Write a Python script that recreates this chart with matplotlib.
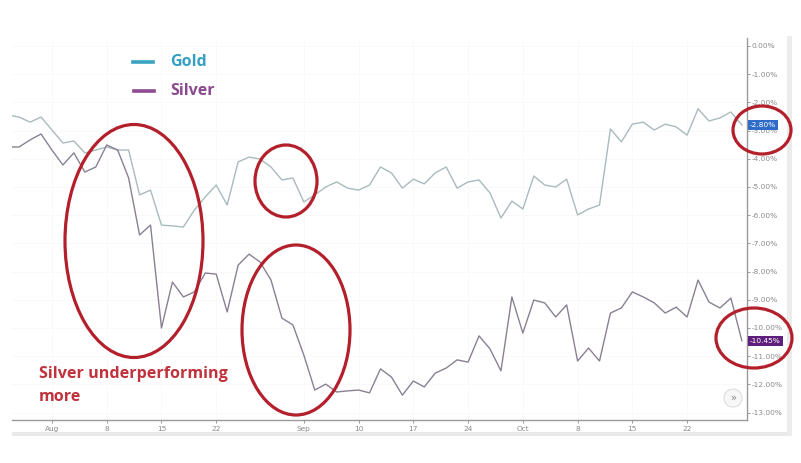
import numpy as np
import pandas as pd
import matplotlib
matplotlib.use("Agg")
import matplotlib.pyplot as plt
import matplotlib.transforms as mtrans
from matplotlib.patches import Ellipse, Rectangle
from matplotlib.lines import Line2D

# ---------------- data ----------------
dates = pd.bdate_range("2018-07-26", "2018-10-29")

gold = [-2.45, -2.52, -2.70, -2.52,
        -2.98, -3.44, -3.37, -3.79, -3.69, -3.58, -3.69, -3.69, -5.28, -5.11,
        -6.35, -6.38, -6.42, -5.82, -5.35, -4.93, -5.64, -4.11, -3.94, -4.01,
        -4.29, -4.75, -4.68, -5.53, -5.28, -5.00, -4.82, -5.04, -5.11, -4.93,
        -4.29, -4.50, -5.04, -4.72, -4.89, -4.50, -4.29, -5.04, -4.82, -4.75,
        -5.21, -6.10, -5.50, -5.78, -4.61, -4.93, -5.00, -4.72, -5.99, -5.78,
        -5.64, -2.94, -3.40, -2.77, -2.70, -2.98, -2.77, -2.87, -3.16, -2.23,
        -2.66, -2.55, -2.34, -2.80]

silver = [-3.58, -3.58, -3.33, -3.12,
          -3.69, -4.22, -3.79, -4.47, -4.29, -3.51, -3.69, -4.68, -6.70, -6.35,
          -10.00, -8.37, -8.90, -8.72, -8.05, -8.09, -9.43, -7.77, -7.38, -7.66,
          -8.30, -9.65, -9.89, -10.96, -12.20, -11.99, -12.27, -12.23, -12.20, -12.30,
          -11.45, -11.74, -12.38, -11.88, -12.09, -11.60, -11.42, -11.13, -11.21, -10.28,
          -10.74, -11.52, -8.90, -10.18, -9.01, -9.11, -9.61, -9.18, -11.17, -10.71,
          -11.17, -9.47, -9.29, -8.72, -8.90, -9.11, -9.47, -9.26, -9.61, -8.30,
          -9.08, -9.29, -8.94, -10.45]

tick_dates = ["2018-08-01", "2018-08-08", "2018-08-15", "2018-08-22", "2018-09-03",
              "2018-09-10", "2018-09-17", "2018-09-24", "2018-10-01", "2018-10-08",
              "2018-10-15", "2018-10-22"]
tick_labels = ["Aug", "8", "15", "22", "Sep", "10", "17", "24", "Oct", "8", "15", "22"]

y_ticks = list(range(0, -14, -1))

# ---------------- figure ----------------
W, H = 801, 463
fig = plt.figure(figsize=(W / 100, H / 100), dpi=100)
fig.patch.set_facecolor("white")

def fx(px):
    return px / W

def fy(py):
    return 1 - py / H

ax_left, ax_right, ax_top, ax_bot = 12, 747, 38, 420
ax = fig.add_axes([fx(ax_left), fy(ax_bot), (ax_right - ax_left) / W, (ax_bot - ax_top) / H])

pos = np.arange(len(dates))
ax.plot(pos, gold, color="#a9babd", lw=1.0)
ax.plot(pos, silver, color="#8a8094", lw=1.0)

ax.set_xlim(0.35, 67.47)
ax.set_ylim((46 - ax_bot) / 28.2, (46 - ax_top) / 28.2)

tick_pos = [dates.get_loc(pd.Timestamp(d)) for d in tick_dates]
ax.set_xticks(tick_pos)
ax.set_xticklabels(tick_labels)
ax.yaxis.tick_right()
ax.set_yticks(y_ticks)
ax.set_yticklabels([f"{v:.2f}%" for v in y_ticks])
ax.tick_params(axis="both", labelsize=5.3, colors="#8a8a8a", length=2.5, width=0.6, pad=1.5)
ax.tick_params(axis="y", pad=1)

for s in ["top", "left"]:
    ax.spines[s].set_visible(False)
for s in ["bottom", "right"]:
    ax.spines[s].set_color("#9a9a9a")
    ax.spines[s].set_linewidth(1.0)

ax.grid(True, color="#f8f8f8", lw=0.6)
ax.set_axisbelow(True)

# last value labels
trans = mtrans.blended_transform_factory(ax.transAxes, ax.transData)
ax.text(1.004, gold[-1], f"{gold[-1]:.2f}%", transform=trans, fontsize=5.3, color="white",
        va="center", ha="left", clip_on=False,
        bbox=dict(boxstyle="square,pad=0.25", fc="#2f6cc8", ec="none"))
ax.text(1.004, silver[-1], f"{silver[-1]:.2f}%", transform=trans, fontsize=5.3, color="white",
        va="center", ha="left", clip_on=False,
        bbox=dict(boxstyle="square,pad=0.25", fc="#5e1f7c", ec="none"))

# frame artifacts (screenshot borders)
fig.patches.append(Rectangle((fx(12), fy(436)), fx(780), 4 / H, transform=fig.transFigure,
                             fc="#e9e9e9", ec="none"))
fig.patches.append(Rectangle((fx(787), fy(436)), 5 / W, 400 / H, transform=fig.transFigure,
                             fc="#ececec", ec="none"))

# button
fig.patches.append(Ellipse((fx(733), fy(398)), 18 / W, 18 / H, transform=fig.transFigure,
                           fc="#f7f7f7", ec="#dddddd", lw=0.8))
fig.text(fx(733), fy(398), "»", fontsize=7, color="#888888", ha="center", va="center")

# legend
fig.add_artist(Line2D([fx(133), fx(153)], [fy(62), fy(62)], color="#3aa2c2", lw=2.6,
                      transform=fig.transFigure))
fig.add_artist(Line2D([fx(134), fx(154)], [fy(91), fy(91)], color="#8d4b92", lw=2.6,
                      transform=fig.transFigure))
fig.text(fx(170), fy(62), "Gold", fontsize=11.5, fontweight="bold", color="#349fc3",
         family="Open Sans", va="center", ha="left")
fig.text(fx(170), fy(91), "Silver", fontsize=11.5, fontweight="bold", color="#8a4a8e",
         family="Open Sans", va="center", ha="left")

# annotation text
fig.text(fx(39), fy(374), "Silver underperforming", fontsize=11.6, fontweight="bold",
         color="#c0323c", family="Open Sans", va="center", ha="left")
fig.text(fx(39), fy(397), "more", fontsize=11.6, fontweight="bold",
         color="#c0323c", family="Open Sans", va="center", ha="left")

# red ellipses (center px, width px, height px)
ellipses = [(134, 241, 138, 233), (286, 181, 62, 72), (296, 330, 108, 170),
            (762, 130, 58, 48), (754, 338, 76, 60)]
for cx, cy, w, h in ellipses:
    fig.patches.append(Ellipse((fx(cx), fy(cy)), w / W, h / H, transform=fig.transFigure,
                               fc="none", ec="#b3202c", lw=2.3))

fig.savefig("out.png", dpi=100)
